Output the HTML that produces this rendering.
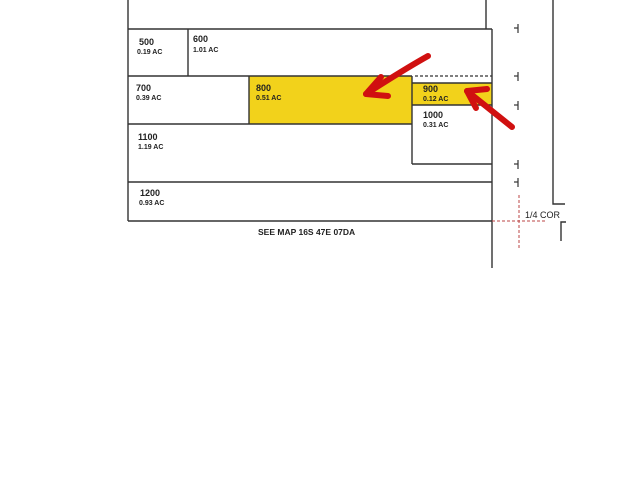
<!DOCTYPE html>
<html><head><style>
html,body{margin:0;padding:0;background:#fff;}
svg{display:block;font-family:"Liberation Sans",Arial,sans-serif;}
</style></head><body>
<svg width="640" height="480" viewBox="0 0 640 480">
<rect width="640" height="480" fill="#fff"/>
<rect x="249" y="76" width="163" height="48" fill="#f2d21b"/>
<rect x="412" y="83" width="80" height="22" fill="#f2d21b"/>
<g stroke="#333" stroke-width="1.4" fill="none">
<line x1="128" y1="0" x2="128" y2="221"/>
<line x1="486" y1="0" x2="486" y2="29"/>
<line x1="128" y1="29" x2="492" y2="29"/>
<line x1="492" y1="29" x2="492" y2="268"/>
<line x1="188" y1="29" x2="188" y2="76"/>
<line x1="128" y1="76" x2="412" y2="76"/>
<line x1="249" y1="76" x2="249" y2="124"/>
<line x1="412" y1="76" x2="412" y2="164"/>
<line x1="412" y1="83" x2="492" y2="83"/>
<line x1="412" y1="105" x2="492" y2="105"/>
<line x1="128" y1="124" x2="412" y2="124"/>
<line x1="412" y1="164" x2="492" y2="164"/>
<line x1="128" y1="182" x2="492" y2="182"/>
<line x1="128" y1="221" x2="492" y2="221"/>
<polyline points="553,0 553,204 565,204"/>
<polyline points="566,222 561,222 561,241"/>
</g>
<line x1="415" y1="76" x2="492" y2="76" stroke="#333" stroke-width="1.2" stroke-dasharray="3,2"/>
<line x1="492" y1="221" x2="545" y2="221" stroke="#b44" stroke-width="1" stroke-dasharray="3,2"/>
<line x1="519" y1="195" x2="519" y2="250" stroke="#b44" stroke-width="1" stroke-dasharray="3,2"/>
<g stroke="#333" stroke-width="1.2">
<line x1="518" y1="24" x2="518" y2="33"/><line x1="514" y1="28" x2="518" y2="28"/>
<line x1="518" y1="72" x2="518" y2="81"/><line x1="514" y1="76" x2="518" y2="76"/>
<line x1="518" y1="101" x2="518" y2="110"/><line x1="514" y1="105" x2="518" y2="105"/>
<line x1="518" y1="160" x2="518" y2="169"/><line x1="514" y1="164" x2="518" y2="164"/>
<line x1="518" y1="178" x2="518" y2="187"/><line x1="514" y1="182" x2="518" y2="182"/>
</g>
<g fill="#222" font-weight="bold">
<text x="139" y="45" font-size="9">500</text><text x="137" y="54" font-size="7">0.19 AC</text>
<text x="193" y="42" font-size="9">600</text><text x="193" y="52" font-size="7">1.01 AC</text>
<text x="136" y="91" font-size="9">700</text><text x="136" y="100" font-size="7">0.39 AC</text>
<text x="256" y="91" font-size="9">800</text><text x="256" y="100" font-size="7">0.51 AC</text>
<text x="423" y="92" font-size="9">900</text><text x="423" y="101" font-size="7">0.12 AC</text>
<text x="423" y="118" font-size="9">1000</text><text x="423" y="127" font-size="7">0.31 AC</text>
<text x="138" y="140" font-size="9">1100</text><text x="138" y="149" font-size="7">1.19 AC</text>
<text x="140" y="196" font-size="9">1200</text><text x="139" y="205" font-size="7">0.93 AC</text>
<text x="258" y="235" font-size="8.5">SEE MAP 16S 47E 07DA</text>
<text x="525" y="218" font-size="9" font-weight="normal">1/4 COR</text>
</g>
<g stroke="#d01010" stroke-width="6" stroke-linecap="round" stroke-linejoin="round" fill="none">
<path d="M428 56 Q403 70 366 94"/>
<path d="M381 77 L366 94 L388 96"/>
<path d="M512 127 L467 91"/>
<path d="M476 108 L467 91 L487 89"/>
</g>
</svg>
</body></html>
